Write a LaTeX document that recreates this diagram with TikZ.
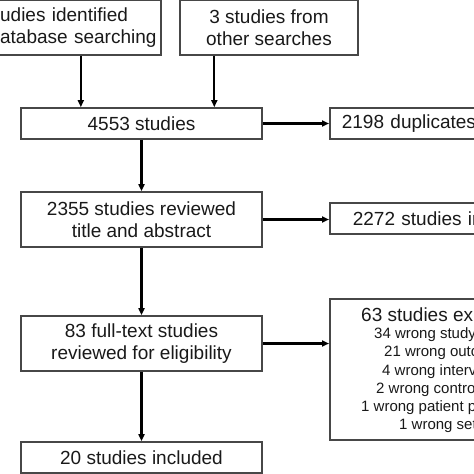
\documentclass[tikz,border=0pt]{standalone}
\usepackage{fontspec}
\setmainfont{Liberation Sans}
\usetikzlibrary{arrows.meta, positioning, calc}
\tikzset{every node/.append style={align=center, inner sep=3pt}}

\begin{document}
\begin{tikzpicture}[
    x=1pt, y=-1pt,
    box/.style={rectangle, draw=black!72, line width=1.7pt, text=black!90,
        minimum width=241pt, font=\fontsize{19}{22}\selectfont},
    cutbox/.style={box, align=left, minimum width=0pt},
    arr/.style={-{Triangle[length=7pt, width=6pt]}, line width=2.1pt, black},
    reason/.style={anchor=base west, inner sep=0pt, text=black!90,
        font=\fontsize{15}{18}\selectfont}
]
\useasboundingbox (0,0) rectangle (474,474);
\clip (0,0) rectangle (474,474);
% sources (top)
\node[cutbox, anchor=east, text width=158pt, inner xsep=3pt, minimum height=54.5pt]
    (db) at (162,27.75) {udies identified\\atabase searching};
\node[box, minimum width=178pt, minimum height=54.5pt] (other) at (269,27.75)
    {3 studies from\\other searches};
% main column (left)
\node[box, minimum height=31pt] (found) at (141.5,123.5) {4553 studies};
\node[box, minimum height=55pt] (screen) at (141.5,219.5)
    {2355 studies reviewed\\title and abstract};
\node[box, minimum height=55pt] (full) at (141.5,343.5)
    {83 full-text studies\\reviewed for eligibility};
\node[box, minimum height=31pt] (incl) at (141.5,457.5) {20 studies included};
% removed records (right)
\node[cutbox, anchor=west, text width=200pt, inner xsep=12pt, minimum height=31pt]
    (dup) at (329,123.5) {2198 duplicates};
\node[cutbox, anchor=west, text width=200pt, inner xsep=23pt, minimum height=31pt]
    (irrel) at (329,218.5) {2272 studies ir};
\node[box, anchor=north west, minimum width=200pt, minimum height=141pt]
    (excl) at (329,298) {};
\node[reason, font=\fontsize{19}{22}\selectfont] (excltitle) at (361,321) {63 studies ex};
\foreach \x/\y/\t [count=\i] in {374/338/34 wrong study, 384/356/21 wrong outc,
    382/375/4 wrong interv, 376/393/2 wrong contro,
    361/411/1 wrong patient p, 399/429/1 wrong set}
    \node[reason] (why\i) at (\x,\y) {\t};
% arrows
\coordinate (inA) at ($(found.north west)!0.25!(found.north east)$);
\coordinate (inB) at ($(found.north west)!0.8!(found.north east)$);
\draw[arr] (db.south -| inA) -- (inA);
\draw[arr] (other.south -| inB) -- (inB);
\draw[arr] (found) -- (screen);
\draw[arr] (found.east) -- (found.east -| dup.west);
\draw[arr] (screen.east) -- (screen.east -| irrel.west);
\draw[arr] (screen) -- (full);
\draw[arr] (full.east) -- (full.east -| excl.west);
\draw[arr] (full) -- (incl);
\end{tikzpicture}
\end{document}
